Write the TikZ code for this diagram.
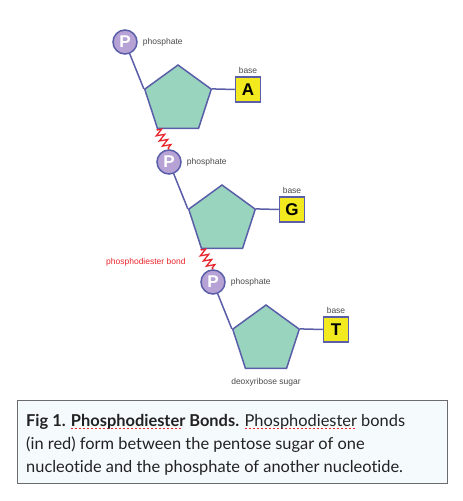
\documentclass[tikz,border=0pt]{standalone}
\usepackage{fontspec}
\setmainfont{Liberation Sans}
\newfontfamily\capfont[Ligatures=NoCommon]{Lato}
\usetikzlibrary{positioning,shapes.geometric,decorations.pathmorphing}

\definecolor{edgeblue}{HTML}{5A5EA8}
\definecolor{sugarcol}{HTML}{98D4BE}
\definecolor{phoscol}{HTML}{B6A2D5}
\definecolor{basecol}{HTML}{F2EA1E}
\definecolor{bondred}{HTML}{E8262D}
\definecolor{labelgray}{HTML}{4A4A4A}
\definecolor{boxgray}{HTML}{6B6B6B}
\definecolor{boxfill}{HTML}{F5FAFC}
\definecolor{captext}{HTML}{222222}

\newcommand\spellmark[1]{\setbox0\hbox{#1}\rlap{\hbox to \wd0{\color{bondred}\leaders\hbox{\rule[-0.35ex]{2.5pt}{1.3pt}\kern1.5pt}\hfill}}#1}

\tikzset{
  phos/.style={circle, draw=edgeblue, fill=phoscol, line width=1.5pt, minimum size=24pt, inner sep=0pt, text=white, font=\bfseries\fontsize{17}{17}\selectfont},
  sugar/.style={regular polygon, regular polygon sides=5, draw=edgeblue, fill=sugarcol, line width=1.5pt, minimum size=70pt, inner sep=0pt},
  basebox/.style={rectangle, draw=edgeblue, fill=basecol, line width=1.5pt, minimum size=25pt, inner sep=0pt, font=\bfseries\fontsize{17}{17}\selectfont},
  lbl/.style={text=labelgray, font=\fontsize{8.5}{9}\selectfont, inner sep=1pt},
  link/.style={draw=edgeblue, line width=1.5pt},
  bond/.style={draw=bondred, line width=1.3pt, decorate, decoration={zigzag, segment length=6pt, amplitude=4pt, pre length=1pt, post length=1pt}}
}

\begin{document}
\begin{tikzpicture}[x=1pt, y=-1pt]
\useasboundingbox (0,0) rectangle (463,501);

% first nucleotide
\node (p1) [phos] at (125,42) {P};
\node (s1) [sugar, on grid, below right=58pt and 53pt of p1] {};
\node (b1) [basebox, on grid, above right=10.5pt and 70pt of s1] {A};

% second nucleotide
\node (p2) [phos, on grid, below left=62pt and 9pt of s1] {P};
\node (s2) [sugar, on grid, below right=58pt and 53pt of p2] {};
\node (b2) [basebox, on grid, above right=10.5pt and 70pt of s2] {G};

% third nucleotide
\node (p3) [phos, on grid, below left=62pt and 9pt of s2] {P};
\node (s3) [sugar, on grid, below right=58pt and 53pt of p3] {};
\node (b3) [basebox, on grid, above right=10.5pt and 70pt of s3] {T};

% labels
\node (l1) [lbl, right=4pt of p1] {phosphate};
\node (l2) [lbl, right=4pt of p2] {phosphate};
\node (l3) [lbl, right=4pt of p3] {phosphate};
\node (t1) [lbl, above=1pt of b1] {base};
\node (t2) [lbl, above=1pt of b2] {base};
\node (t3) [lbl, above=1pt of b3] {base};
\node (sug) [lbl, below=8pt of s3] {deoxyribose sugar};

% connectors
\draw [link] (p1) -- (s1.corner 2);
\draw [link] (s1.corner 5) -- (b1.west);
\draw [link] (p2) -- (s2.corner 2);
\draw [link] (s2.corner 5) -- (b2.west);
\draw [link] (p3) -- (s3.corner 2);
\draw [link] (s3.corner 5) -- (b3.west);

\draw [bond] (s1.corner 3) -- (p2.north);
\draw [bond] (s2.corner 3) -- (p3.north);
\path (s2.corner 3) -- (p3.north) coordinate[pos=.65] (m2);
\node (bl) [lbl, text=bondred, left=22pt of m2] {phosphodiester bond};

% caption
\node (box) [draw=boxgray, fill=boxfill, line width=0.8pt, minimum width=430pt, minimum height=83pt, inner sep=0pt, anchor=north west] at (17,400) {};
\node (cap) [anchor=north west, align=left, inner sep=0pt, text=captext, font=\capfont\fontsize{16.4}{23}\selectfont] at (26,414)
  {\textbf{Fig 1. \spellmark{Phosphodiester} Bonds.} \spellmark{Phosphodiester} bonds\\
   (in red) form between the pentose sugar of one\\
   nucleotide and the phosphate of another nucleotide.};
\end{tikzpicture}
\end{document}
